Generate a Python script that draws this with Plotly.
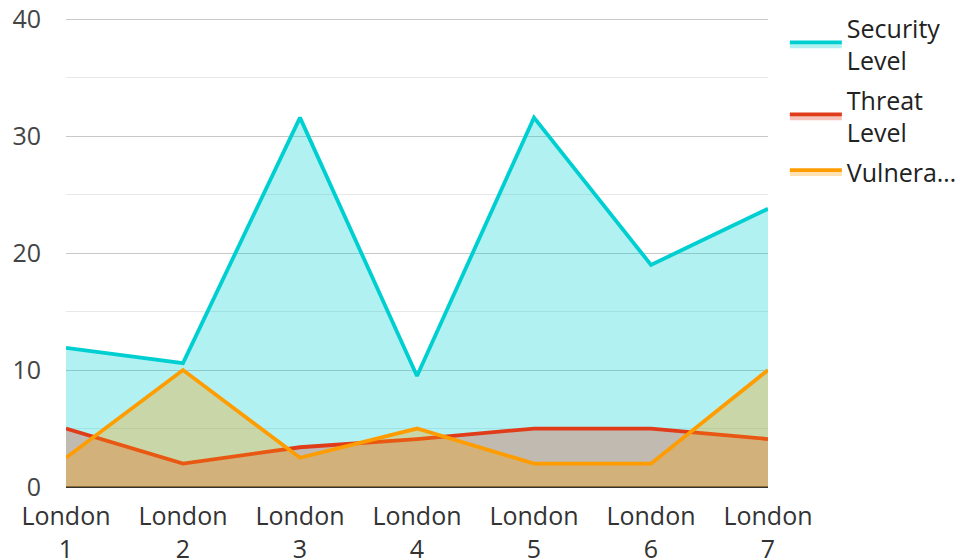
import plotly.graph_objects as go

categories = ["London<br>1", "London<br>2", "London<br>3", "London<br>4", "London<br>5", "London<br>6", "London<br>7"]
security = [11.9, 10.6, 31.6, 9.5, 31.6, 19.0, 23.8]
threat = [5.0, 2.0, 3.4, 4.1, 5.0, 5.0, 4.1]
vulnerability = [2.5, 10.0, 2.5, 5.0, 2.0, 2.0, 10.0]
series_names = ["Security<br>Level", "Threat<br>Level", "Vulnera…"]
y_ticks = [0, 10, 20, 30, 40]

line_colors = ["#00cfd1", "#e03c1a", "#ff9c00"]
fill_colors = ["rgba(0,207,209,0.3)", "rgba(224,60,26,0.3)", "rgba(255,156,0,0.3)"]

fig = go.Figure()
for i, (name, vals, lc, fc) in enumerate(zip(series_names, [security, threat, vulnerability], line_colors, fill_colors)):
    fig.add_trace(go.Scatter(
        x=categories, y=vals, name=name, mode="lines", legendgroup=f"g{i}",
        line=dict(color=lc, width=3.8), fill="tozeroy", fillcolor=fc,
    ))

font_family = "Open Sans, Noto Sans, sans-serif"
fig.update_layout(
    width=955, height=550,
    margin=dict(l=58, r=195, t=10, b=71, autoexpand=False),
    plot_bgcolor="white", paper_bgcolor="white",
    font=dict(family=font_family, size=25, color="#444"),
    showlegend=True,
    legend=dict(x=1.024, y=1.027, xanchor="left", yanchor="top",
                font=dict(size=25, color="#222"), itemwidth=52,
                traceorder="grouped", tracegroupgap=4),
    xaxis=dict(type="category", range=[0, 6], showgrid=False,
               showline=False, ticks="", ticklabelstandoff=12,
               ticklabeloverflow="allow", tickfont=dict(color="#333")),
    yaxis=dict(range=[0, 40.12], tickmode="array", tickvals=y_ticks,
               showgrid=True, gridcolor="#c8c8c8",
               gridwidth=1, zeroline=True, zerolinecolor="#333", zerolinewidth=2,
               showline=False, ticks="", ticklabelstandoff=24,
               ticklabeloverflow="allow",
               minor=dict(dtick=5, showgrid=True, gridcolor="#e8e8e8", gridwidth=1),
               tickfont=dict(color="#444")),
)

fig.write_html("out.html")
